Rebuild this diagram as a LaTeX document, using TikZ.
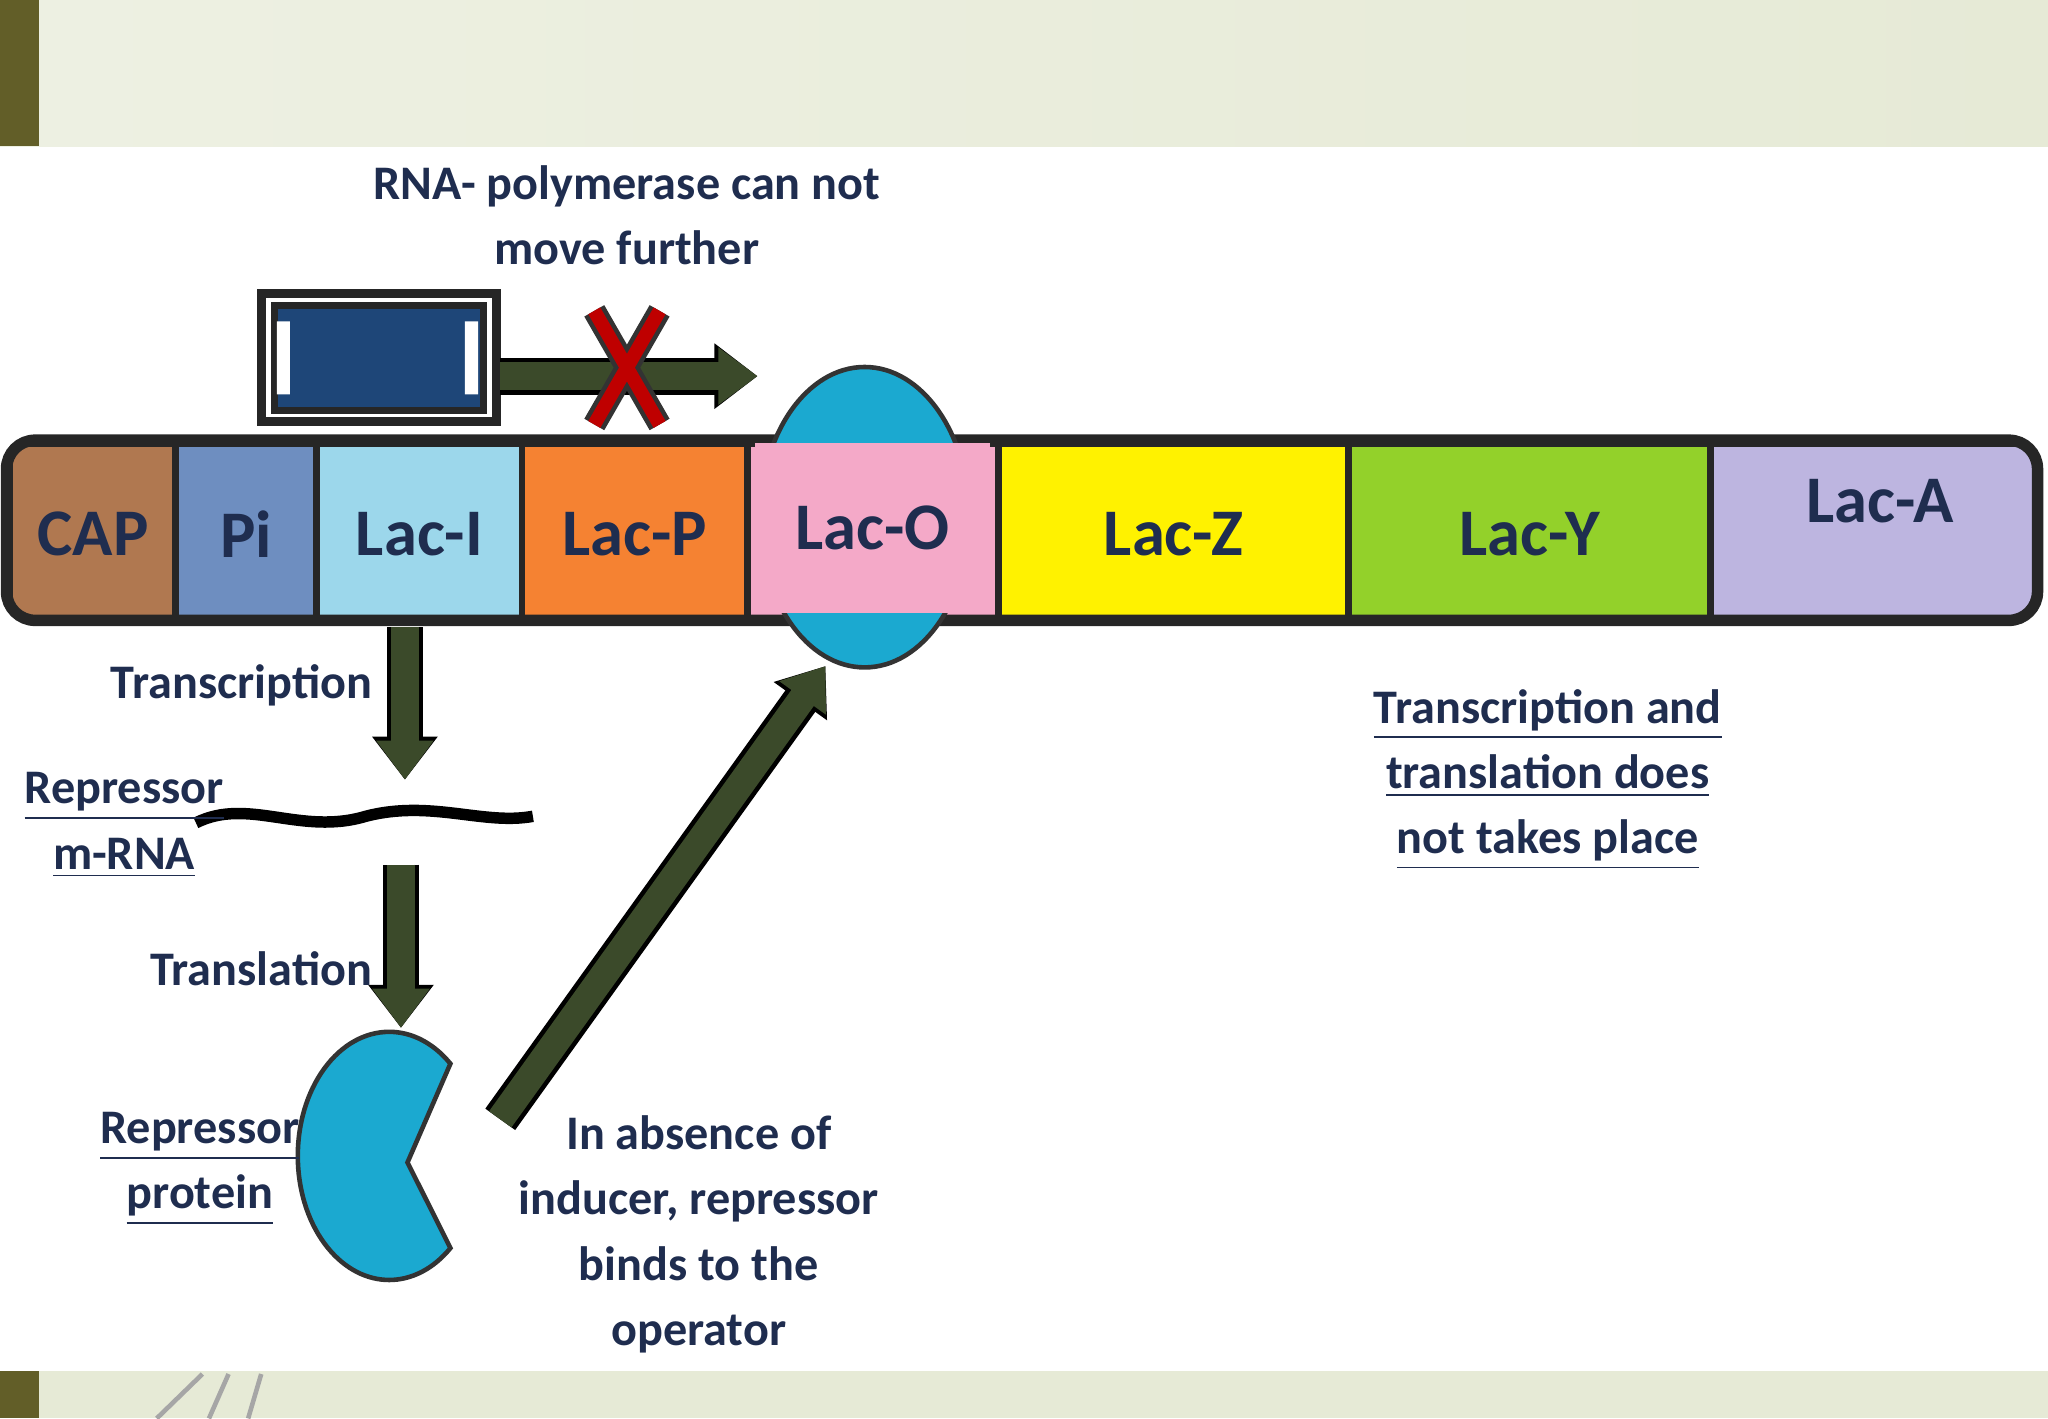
\documentclass[tikz,border=0pt]{standalone}
\usepackage{fontspec}
\setmainfont{Carlito}
\usetikzlibrary{arrows.meta}
\definecolor{txt}{HTML}{1F2D4F}
\definecolor{olv}{HTML}{3B4A2A}
\definecolor{band}{HTML}{E6EAD6}
\definecolor{cyanb}{HTML}{1BA9D0}
\begin{document}
\begin{tikzpicture}[x=0.01cm,y=-0.01cm,
  seg/.style={draw=black!85, line width=1.5pt, minimum height=1.38cm, inner sep=0pt, anchor=north west, font=\bfseries\fontsize{14.5}{17}\selectfont, text=txt},
  lbl/.style={font=\bfseries\fontsize{10.5}{14.2}\selectfont, text=txt, align=center},
  bigarrow/.style={draw=olv, line width=6pt, -{Triangle[length=0.3cm,width=0.42cm]},
    preaction={draw=black, line width=8pt, -{Triangle[length=0.33cm,width=0.48cm]}}}]
\useasboundingbox (0,0) rectangle (1568,1086);
% slide bands
\shade[left color=band!70, right color=band] (0,0) rectangle (1568,112);
\fill[olive!60!black] (0,0) rectangle (30,112);
\fill[band] (0,1050) rectangle (1568,1086);
\fill[olive!60!black] (0,1050) rectangle (30,1086);
\draw[gray!70, line width=1pt] (120,1086) -- (155,1052) (160,1086) -- (175,1052) (190,1086) -- (200,1052);
% operon bar
\begin{scope}
\clip[rounded corners=0.22cm] (5,337) rectangle (1560,475);
\node[seg, fill={rgb,255:red,176;green,120;blue,80}, minimum width=1.27cm] (cap) at (5,337) {CAP};
\node[seg, fill={rgb,255:red,110;green,142;blue,192}, minimum width=1.08cm] (pi) at (132,337) {Pi};
\node[seg, fill={rgb,255:red,156;green,215;blue,235}, minimum width=1.57cm] (laci) at (240,337) {Lac-I};
\node[seg, fill={rgb,255:red,245;green,130;blue,50}, minimum width=1.73cm] (lacp) at (397,337) {Lac-P};
\node[seg, fill={rgb,255:red,244;green,169;blue,200}, minimum width=1.92cm] (laco) at (570,337) {};
\node[seg, fill=yellow, minimum width=2.68cm] (lacz) at (762,337) {Lac-Z};
\node[seg, fill={rgb,255:red,147;green,209;blue,42}, minimum width=2.77cm] (lacy) at (1030,337) {Lac-Y};
\node[seg, fill={rgb,255:red,189;green,181;blue,224}, minimum width=2.6cm, text depth=0.5cm] (laca) at (1307,337) {Lac-A};
\end{scope}
\draw[line width=2.5pt, draw=black!85, rounded corners=0.22cm] (5,337) rectangle (1560,475);
% repressor on operator
\fill[cyanb, draw=black!80, line width=1pt] (662,396) ellipse [x radius=80, y radius=115];
\node[fill={rgb,255:red,244;green,169;blue,200}, minimum width=1.8cm, minimum height=1.3cm, inner sep=0pt, font=\bfseries\fontsize{14.5}{17}\selectfont, text=txt] (lacolbl) at (668,404) {Lac-O};
% RNA polymerase
\node[draw=black!85, line width=2pt, fill=white, minimum width=1.8cm, minimum height=0.98cm, inner sep=0pt] (pol) at (290,274) {};
\node[draw=black!85, line width=1.5pt, fill={rgb,255:red,30;green,70;blue,120}, minimum width=1.6cm, minimum height=0.8cm, inner sep=0pt] (polin) at (290,274) {};
\fill[white] (212,246) rectangle (222,302) (356,246) rectangle (366,302);
\coordinate (polstart) at (383,288);
\coordinate (polend) at (580,288);
\draw[bigarrow] (polstart) -- (polend);
\draw[black!80, line width=5pt] (455,238) -- (505,325) (505,238) -- (455,325);
\draw[red!75!black, line width=3pt] (455,238) -- (505,325) (505,238) -- (455,325);
\node[lbl] (poltxt) at (480,165) {RNA- polymerase can not\\move further};
% transcription
\coordinate (mrnatop) at (310,597);
\draw[bigarrow] (laci.south -| mrnatop) -- (mrnatop);
\node[lbl] (trtxt) at (185,525) {Transcription};
\draw[line width=2.5pt] (150,630) .. controls (190,610) and (230,640) .. (280,625) .. controls (330,612) and (370,632) .. (408,625);
\node[lbl] (mrna) at (95,632) {\underline{Repressor}\\\underline{m-RNA}};
% translation
\coordinate (tl1) at (307,662);
\coordinate (tl2) at (307,787);
\draw[bigarrow] (tl1) -- (tl2);
\node[lbl] (tltxt) at (200,742) {Translation};
% repressor protein
\fill[cyanb, draw=black!80, line width=1pt] (312,890) -- ([shift={(298,885)}] -48:70 and 95) arc[start angle=-48, end angle=-312, x radius=70, y radius=95] -- cycle;
\node[lbl] (reptxt) at (153,895) {\underline{Repressor}\\\underline{protein}};
\coordinate (b1) at (383,857);
\coordinate (b2) at (632,510);
\draw[bigarrow] (b1) -- (b2);
\node[lbl] (abs) at (535,945) {In absence of\\inducer, repressor\\binds to the\\operator};
\node[lbl] (notx) at (1185,597) {\underline{Transcription and}\\\underline{translation does}\\\underline{not takes place}};
\end{tikzpicture}
\end{document}
